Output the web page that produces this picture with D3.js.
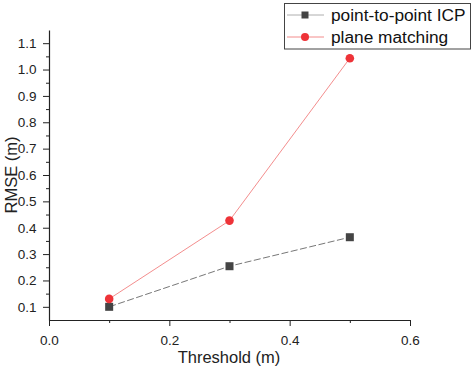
<!DOCTYPE html>
<html><head><meta charset="utf-8">
<script src="https://cdn.jsdelivr.net/npm/d3@7"></script>
<style>body{margin:0;background:#fff}svg{display:block}</style>
</head><body><svg id="c" width="474" height="370"></svg>
<script>
const thresholds = [0.1, 0.3, 0.5];
const icpValues = [0.100, 0.254, 0.364];
const planeValues = [0.130, 0.427, 1.043];
const xTicks = [0.0, 0.2, 0.4, 0.6];
const xMinorTicks = [0.1, 0.3, 0.5];
const yTicks = [0.1, 0.2, 0.3, 0.4, 0.5, 0.6, 0.7, 0.8, 0.9, 1.0, 1.1];
const yMinorTicks = [0.15, 0.25, 0.35, 0.45, 0.55, 0.65, 0.75, 0.85, 0.95, 1.05];
const seriesNames = ["point-to-point ICP", "plane matching"];

const svg = d3.select("#c");
const font = "Arial, 'Liberation Sans', sans-serif";
const x = d3.scaleLinear().domain([0, 0.6]).range([49, 410]);
const y = d3.scaleLinear().domain([0.05, 1.15]).range([320, 30]);

// axes
const xAxis = svg.append("g").attr("transform", "translate(0,320)")
  .call(d3.axisBottom(x).tickValues(xTicks).tickFormat(d3.format(".1f")).tickSize(6).tickSizeOuter(0));
svg.append("g").attr("transform", "translate(0,320)")
  .call(d3.axisBottom(x).tickValues(xMinorTicks).tickFormat("").tickSize(3).tickSizeOuter(0))
  .select(".domain").remove();
const yAxis = svg.append("g").attr("transform", "translate(49,0)")
  .call(d3.axisLeft(y).tickValues(yTicks).tickFormat(d3.format(".1f")).tickSize(6).tickSizeOuter(0));
svg.append("g").attr("transform", "translate(49,0)")
  .call(d3.axisLeft(y).tickValues(yMinorTicks).tickFormat("").tickSize(3).tickSizeOuter(0))
  .select(".domain").remove();
svg.selectAll(".domain").attr("stroke", "#222").attr("stroke-width", 1.2);
svg.selectAll(".tick line").attr("stroke", "#222").attr("stroke-width", 1);
svg.selectAll(".tick text").attr("font-family", font).attr("font-size", 13.5).attr("fill", "#222");
xAxis.selectAll(".tick text").attr("dy", "1.15em");
yAxis.selectAll(".tick text").attr("dx", "-0.25em");

// axis titles
svg.append("text").attr("x", 229).attr("y", 363).attr("text-anchor", "middle")
  .attr("font-family", font).attr("font-size", 16.5).attr("fill", "#222").text("Threshold (m)");
svg.append("text").attr("transform", "translate(17,175) rotate(-90)").attr("text-anchor", "middle")
  .attr("font-family", font).attr("font-size", 16.5).attr("fill", "#222").text("RMSE (m)");

// lines
const line = d3.line().x(d => x(d[0])).y(d => y(d[1]));
const icp = thresholds.map((t, i) => [t, icpValues[i]]);
const plane = thresholds.map((t, i) => [t, planeValues[i]]);
svg.append("path").datum(icp).attr("d", line).attr("fill", "none")
  .attr("stroke", "#777").attr("stroke-width", 1).attr("stroke-dasharray", "7,2.5");
svg.append("path").datum(plane).attr("d", line).attr("fill", "none")
  .attr("stroke", "#f07070").attr("stroke-width", 0.8);

svg.selectAll(".sq").data(icp).enter().append("rect")
  .attr("x", d => x(d[0]) - 4).attr("y", d => y(d[1]) - 4).attr("width", 8).attr("height", 8)
  .attr("fill", "#444");
svg.selectAll(".ci").data(plane).enter().append("circle")
  .attr("cx", d => x(d[0])).attr("cy", d => y(d[1])).attr("r", 4.3)
  .attr("fill", "#ee3338");

// legend
svg.append("rect").attr("x", 284.5).attr("y", 3.5).attr("width", 186).attr("height", 45.5)
  .attr("fill", "#fff").attr("stroke", "#444").attr("stroke-width", 1);
const lg = svg.append("g");
[0, 1].forEach(i => {
  const ly = 15 + i * 22;
  lg.append("line").attr("x1", 287).attr("x2", 324).attr("y1", ly).attr("y2", ly)
    .attr("stroke", i === 0 ? "#999" : "#f07070").attr("stroke-width", 0.8);
  if (i === 0) lg.append("rect").attr("x", 301.5).attr("y", ly - 3.5).attr("width", 7).attr("height", 7).attr("fill", "#444");
  else lg.append("circle").attr("cx", 305).attr("cy", ly).attr("r", 4).attr("fill", "#ee3338");
  lg.append("text").attr("x", 331).attr("y", ly + 6).attr("font-family", font).attr("font-size", 17.3)
    .attr("fill", "#111").text(seriesNames[i]);
});
</script></body></html>
